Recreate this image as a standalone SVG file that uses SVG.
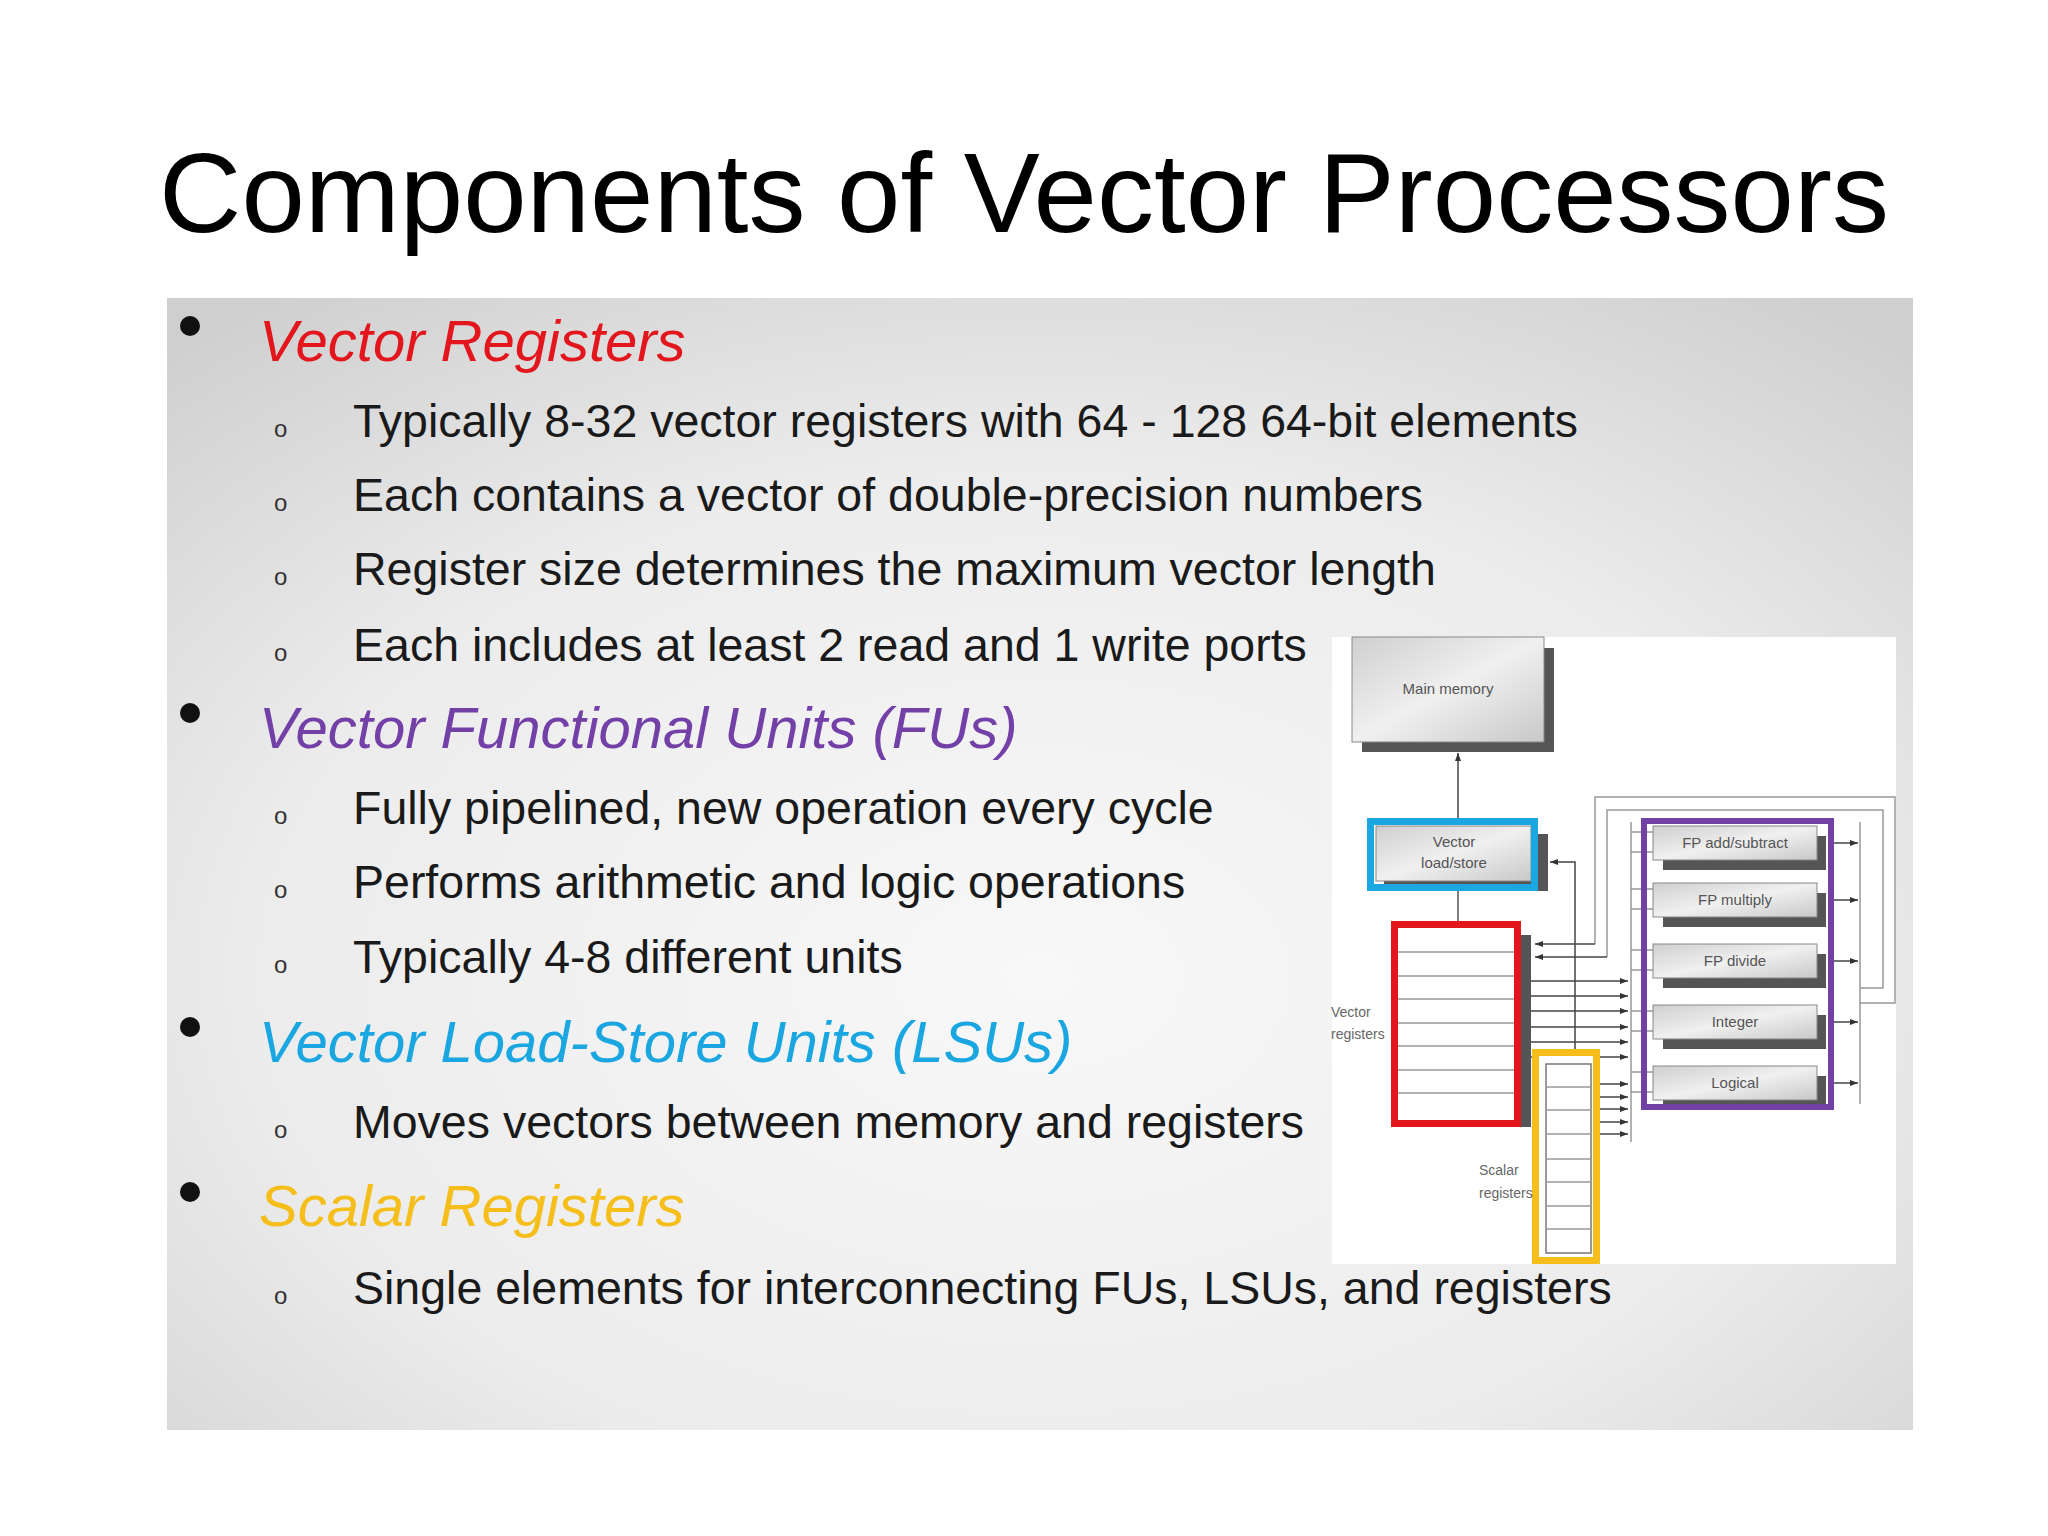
<svg xmlns="http://www.w3.org/2000/svg" width="2048" height="1536" viewBox="0 0 2048 1536">
<defs>
<radialGradient id="bg" cx="0.5" cy="0.6" r="0.75">
<stop offset="0" stop-color="#f8f8f8"/><stop offset="0.6" stop-color="#ececec"/><stop offset="1" stop-color="#cfcfcf"/>
</radialGradient>
<linearGradient id="box" x1="0" y1="0" x2="1" y2="1">
<stop offset="0" stop-color="#cfcfcf"/><stop offset="0.5" stop-color="#f0f0f0"/><stop offset="1" stop-color="#c8c8c8"/>
</linearGradient>
<marker id="ah" markerWidth="8" markerHeight="6" refX="8" refY="3" orient="auto" markerUnits="userSpaceOnUse">
<path d="M0,0 L8,3 L0,6 z" fill="#333"/>
</marker>
</defs>
<style>
.h{font-family:"Liberation Sans",Arial,sans-serif;font-style:italic;font-size:58px}
.t{font-family:"Liberation Sans",Arial,sans-serif;font-size:46.5px;fill:#1a1a1a}
.o{font-family:"Liberation Sans",Arial,sans-serif;font-size:24px;fill:#333}
.d{font-family:"Liberation Sans",Arial,sans-serif;font-size:15px;fill:#555;text-anchor:middle}
.dl{font-family:"Liberation Sans",Arial,sans-serif;font-size:14px;fill:#666}
.ln{stroke:#555;stroke-width:1.5;fill:none}
.ar{stroke:#444;stroke-width:1.5;fill:none;marker-end:url(#ah)}
.fu{fill:url(#box);stroke:#888;stroke-width:1}
.sh{fill:#555}
.rl{stroke:#999;stroke-width:1.5}
</style>
<rect width="2048" height="1536" fill="#fff"/>
<text x="1024" y="232" text-anchor="middle" font-family="Liberation Sans,Arial,sans-serif" font-size="114" fill="#000">Components of Vector Processors</text>
<rect x="167" y="298" width="1746" height="1132" fill="url(#bg)"/>
<g id="text">
<circle cx="190" cy="326" r="10" fill="#111"/>
<circle cx="190" cy="713" r="10" fill="#111"/>
<circle cx="190" cy="1027" r="10" fill="#111"/>
<circle cx="190" cy="1192" r="10" fill="#111"/>
<text class="h" x="259" y="361" fill="#e3161d">Vector Registers</text>
<text class="o" x="274" y="437">o</text><text class="t" x="353" y="437">Typically 8-32 vector registers with 64 - 128 64-bit elements</text>
<text class="o" x="274" y="511">o</text><text class="t" x="353" y="511">Each contains a vector of double-precision numbers</text>
<text class="o" x="274" y="585">o</text><text class="t" x="353" y="585">Register size determines the maximum vector length</text>
<text class="o" x="274" y="661">o</text><text class="t" x="353" y="661">Each includes at least 2 read and 1 write ports</text>
<text class="h" x="259" y="748" fill="#7340a8">Vector Functional Units (FUs)</text>
<text class="o" x="274" y="824">o</text><text class="t" x="353" y="824">Fully pipelined, new operation every cycle</text>
<text class="o" x="274" y="898">o</text><text class="t" x="353" y="898">Performs arithmetic and logic operations</text>
<text class="o" x="274" y="973">o</text><text class="t" x="353" y="973">Typically 4-8 different units</text>
<text class="h" x="259" y="1062" fill="#1aa6e0">Vector Load-Store Units (LSUs)</text>
<text class="o" x="274" y="1138">o</text><text class="t" x="353" y="1138">Moves vectors between memory and registers</text>
<text class="h" x="259" y="1226" fill="#f5be1a">Scalar Registers</text>
<text class="o" x="274" y="1304">o</text><text class="t" x="353" y="1304">Single elements for interconnecting FUs, LSUs, and registers</text>
</g>
<rect x="1332" y="637" width="564" height="627" fill="#fff"/>
<g id="connectors">
<line class="ar" x1="1458" y1="820" x2="1458" y2="753"/>
<line class="ln" x1="1458" y1="891" x2="1458" y2="921"/>
<polyline class="ar" points="1575,1062 1575,862 1550,862"/>
<polyline class="rl" points="1860,1003 1895,1003 1895,797 1595,797 1595,944" fill="none"/>
<line class="ar" x1="1595" y1="944" x2="1535" y2="944"/>
<polyline class="rl" points="1860,988 1883,988 1883,810 1607,810 1607,957" fill="none"/>
<line class="ar" x1="1607" y1="957" x2="1535" y2="957"/>
<line class="ar" x1="1530" y1="981" x2="1628" y2="981"/>
<line class="ar" x1="1530" y1="996" x2="1628" y2="996"/>
<line class="ar" x1="1530" y1="1011" x2="1628" y2="1011"/>
<line class="ar" x1="1530" y1="1027" x2="1628" y2="1027"/>
<line class="ar" x1="1530" y1="1042" x2="1628" y2="1042"/>
<line class="ar" x1="1530" y1="1057" x2="1628" y2="1057"/>
<line class="ar" x1="1600" y1="1084" x2="1628" y2="1084"/>
<line class="ar" x1="1600" y1="1097" x2="1628" y2="1097"/>
<line class="ar" x1="1600" y1="1109" x2="1628" y2="1109"/>
<line class="ar" x1="1600" y1="1122" x2="1628" y2="1122"/>
<line class="ar" x1="1600" y1="1134" x2="1628" y2="1134"/>
<line class="rl" x1="1631" y1="822" x2="1631" y2="1142"/>
<line class="rl" x1="1860" y1="822" x2="1860" y2="1104"/>
<g class="rl">
<line x1="1631" y1="832" x2="1653" y2="832"/><line x1="1631" y1="852" x2="1653" y2="852"/>
<line x1="1631" y1="889" x2="1653" y2="889"/><line x1="1631" y1="909" x2="1653" y2="909"/>
<line x1="1631" y1="950" x2="1653" y2="950"/><line x1="1631" y1="970" x2="1653" y2="970"/>
<line x1="1631" y1="1011" x2="1653" y2="1011"/><line x1="1631" y1="1031" x2="1653" y2="1031"/>
<line x1="1631" y1="1072" x2="1653" y2="1072"/><line x1="1631" y1="1092" x2="1653" y2="1092"/>
</g>
<line class="ar" x1="1834" y1="843" x2="1858" y2="843"/>
<line class="ar" x1="1834" y1="900" x2="1858" y2="900"/>
<line class="ar" x1="1834" y1="961" x2="1858" y2="961"/>
<line class="ar" x1="1834" y1="1022" x2="1858" y2="1022"/>
<line class="ar" x1="1834" y1="1083" x2="1858" y2="1083"/>
</g>
<g id="main-memory">
<rect class="sh" x="1362" y="648" width="192" height="104"/>
<rect class="fu" x="1352" y="637" width="192" height="105"/>
<text class="d" x="1448" y="694">Main memory</text>
</g>
<g id="vector-load-store">
<rect class="sh" x="1384" y="834" width="164" height="57"/>
<rect class="fu" x="1376" y="826" width="155" height="55"/>
<rect x="1370.5" y="821.5" width="164" height="66" fill="none" stroke="#1ba8e2" stroke-width="7"/>
<text class="d" x="1454" y="847">Vector</text>
<text class="d" x="1454" y="868">load/store</text>
</g>
<g id="vector-registers">
<rect class="sh" x="1521" y="935" width="10" height="192"/>
<rect x="1394.5" y="924.5" width="123" height="199" fill="#fff" stroke="#e3161d" stroke-width="7"/>
<g class="rl"><line x1="1398" y1="952" x2="1514" y2="952"/><line x1="1398" y1="976" x2="1514" y2="976"/><line x1="1398" y1="999" x2="1514" y2="999"/><line x1="1398" y1="1023" x2="1514" y2="1023"/><line x1="1398" y1="1046" x2="1514" y2="1046"/><line x1="1398" y1="1070" x2="1514" y2="1070"/><line x1="1398" y1="1093" x2="1514" y2="1093"/></g>
<text class="dl" x="1331" y="1017">Vector</text>
<text class="dl" x="1331" y="1039">registers</text>
</g>
<g id="scalar-registers">
<rect x="1535.5" y="1052.5" width="61" height="208" fill="#fff" stroke="#f5be1a" stroke-width="7"/>
<rect x="1546" y="1064" width="45" height="189" fill="#fff" stroke="#777" stroke-width="1.5"/>
<g class="rl"><line x1="1546" y1="1087" x2="1591" y2="1087"/><line x1="1546" y1="1110" x2="1591" y2="1110"/><line x1="1546" y1="1134" x2="1591" y2="1134"/><line x1="1546" y1="1159" x2="1591" y2="1159"/><line x1="1546" y1="1182" x2="1591" y2="1182"/><line x1="1546" y1="1206" x2="1591" y2="1206"/><line x1="1546" y1="1229" x2="1591" y2="1229"/></g>
<text class="dl" x="1479" y="1175">Scalar</text>
<text class="dl" x="1479" y="1198">registers</text>
</g>
<g id="functional-units">
<rect class="sh" x="1663" y="836" width="163" height="34"/><rect class="fu" x="1653" y="826" width="164" height="34"/><text class="d" x="1735" y="848">FP add/subtract</text>
<rect class="sh" x="1663" y="893" width="163" height="34"/><rect class="fu" x="1653" y="883" width="164" height="34"/><text class="d" x="1735" y="905">FP multiply</text>
<rect class="sh" x="1663" y="954" width="163" height="34"/><rect class="fu" x="1653" y="944" width="164" height="34"/><text class="d" x="1735" y="966">FP divide</text>
<rect class="sh" x="1663" y="1015" width="163" height="34"/><rect class="fu" x="1653" y="1005" width="164" height="34"/><text class="d" x="1735" y="1027">Integer</text>
<rect class="sh" x="1663" y="1076" width="163" height="34"/><rect class="fu" x="1653" y="1066" width="164" height="34"/><text class="d" x="1735" y="1088">Logical</text>
<rect x="1644" y="821" width="187" height="286" fill="none" stroke="#7340a8" stroke-width="6"/>
</g>
</svg>
